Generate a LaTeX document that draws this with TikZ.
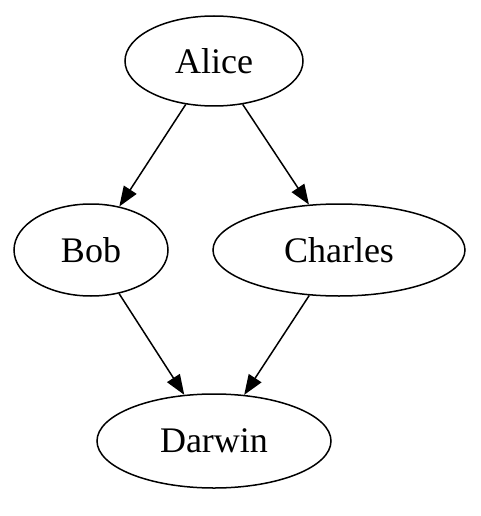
\documentclass[tikz,border=0pt]{standalone}
\usepackage{fontspec}
\setmainfont{Liberation Serif}
\usetikzlibrary{shapes.geometric,arrows.meta}
\begin{document}
\begin{tikzpicture}[x=1pt,y=-1pt,
  gnode/.style={draw,ellipse,line width=1.5pt,inner sep=0pt,font=\fontsize{36}{42}\selectfont},
  gedge/.style={draw,line width=1.5pt,-{Triangle[length=20pt,width=15pt]}}]
\useasboundingbox (0,0) rectangle (480,516);
\node[gnode,minimum width=178pt,minimum height=90pt] (alice) at (214,61) {Alice};
\node[gnode,minimum width=154pt,minimum height=92pt] (bob) at (91,250) {Bob};
\node[gnode,minimum width=252pt,minimum height=92pt] (charles) at (339,250) {Charles};
\node[gnode,minimum width=234pt,minimum height=94pt] (darwin) at (214,441) {Darwin};
\draw[gedge] (alice) -- (bob);
\draw[gedge] (alice) -- (charles);
\draw[gedge] (bob) -- (darwin);
\draw[gedge] (charles) -- (darwin);
\end{tikzpicture}
\end{document}
